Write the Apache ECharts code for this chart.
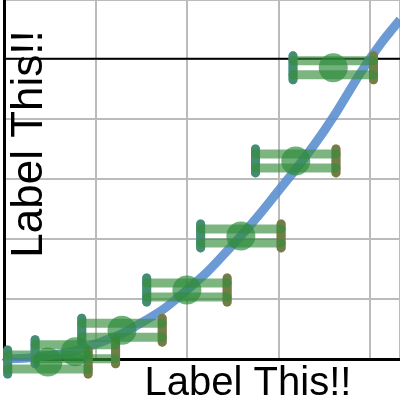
<!DOCTYPE html>
<html>
<head>
<meta charset="utf-8">
<script src="https://cdn.jsdelivr.net/npm/echarts@6/dist/echarts.min.js"></script>
<style>html,body{margin:0;padding:0;background:#fff}#main{width:400px;height:400px}</style>
</head>
<body>
<div id="main"></div>
<script>
// measured points with horizontal error
var pointX = [0.48, 0.78, 1.29, 2.0, 2.59, 3.19, 3.6];
var pointY = [-0.05, 0.12, 0.48, 1.15, 2.05, 3.3, 4.85];
var pointErr = [0.44, 0.44, 0.44, 0.44, 0.44, 0.44, 0.44];
// fitted curve
var curveX = [0, 0.5, 1, 1.5, 2, 2.5, 3, 3.5, 4, 4.33];
var curveY = [0, 0.06, 0.25, 0.6, 1.15, 1.9, 2.8, 3.8, 5.0, 5.65];
var refLineY = 5;
var axisTitle = 'Label This!!';

var chart = echarts.init(document.getElementById('main'));
var green = 'rgba(56,142,60,0.65)';

var errData = pointX.map(function (x, i) { return [x, pointY[i], pointErr[i]]; });

function renderErr(params, api) {
  var x = api.value(0), y = api.value(1), e = api.value(2);
  var l = api.coord([x - e, y]), r = api.coord([x + e, y]);
  var h = 12;
  return {
    type: 'group',
    children: [
      { type: 'line', shape: { x1: l[0], y1: l[1] - h, x2: l[0], y2: l[1] + h }, style: { stroke: '#5b8fd0', lineWidth: 9, lineCap: 'round' } },
      { type: 'line', shape: { x1: r[0], y1: r[1] - h, x2: r[0], y2: r[1] + h }, style: { stroke: '#e06060', lineWidth: 9, lineCap: 'round' } },
      { type: 'line', shape: { x1: l[0], y1: l[1] - 7, x2: r[0], y2: r[1] - 7 }, style: { stroke: green, lineWidth: 9, lineCap: 'round' } },
      { type: 'line', shape: { x1: l[0], y1: l[1] + 7, x2: r[0], y2: r[1] + 7 }, style: { stroke: green, lineWidth: 9, lineCap: 'round' } },
      { type: 'line', shape: { x1: l[0], y1: l[1] - h, x2: l[0], y2: l[1] + h }, style: { stroke: green, lineWidth: 9, lineCap: 'round' } },
      { type: 'line', shape: { x1: r[0], y1: r[1] - h, x2: r[0], y2: r[1] + h }, style: { stroke: green, lineWidth: 9, lineCap: 'round' } }
    ]
  };
}

chart.setOption({
  animation: false,
  grid: { left: 4, right: 0, top: 0, bottom: 41, containLabel: false, outerBoundsMode: 'none' },
  xAxis: {
    type: 'value', min: 0, max: 4.33, interval: 1,
    axisLine: { lineStyle: { color: '#000', width: 3 } },
    axisTick: { show: false }, axisLabel: { show: false },
    splitLine: { lineStyle: { color: '#bbb', width: 2 } }
  },
  yAxis: {
    type: 'value', min: 0, max: 5.98, interval: 1,
    axisLine: { onZero: false, lineStyle: { color: '#000', width: 3 } },
    axisTick: { show: false }, axisLabel: { show: false },
    splitLine: { lineStyle: { color: '#bbb', width: 2 } }
  },
  graphic: [
    { type: 'text', x: 248, y: 384, z: 10, style: { text: axisTitle, fontFamily: 'Liberation Sans', fontSize: 40, fill: '#000', align: 'center', verticalAlign: 'middle' } },
    { type: 'text', x: 30, y: 144, rotation: Math.PI / 2, z: 10, style: { text: axisTitle, fontFamily: 'Liberation Sans', fontSize: 44, fill: '#000', align: 'center', verticalAlign: 'middle' } }
  ],
  series: [
    {
      type: 'line', data: [[0, refLineY], [4.33, refLineY]], symbol: 'none',
      lineStyle: { color: '#000', width: 2 }, z: 1
    },
    {
      type: 'line', smooth: true, symbol: 'none',
      data: curveX.map(function (x, i) { return [x, curveY[i]]; }),
      lineStyle: { color: '#5b8fd0', width: 9, opacity: 0.9 }, z: 2
    },
    { type: 'custom', renderItem: renderErr, data: errData, clip: false, z: 3 },
    {
      type: 'scatter', data: pointX.map(function (x, i) { return [x, pointY[i]]; }),
      symbolSize: 29, itemStyle: { color: 'rgba(46,139,60,0.85)' }, clip: false, z: 4
    }
  ]
});
</script>
</body>
</html>
